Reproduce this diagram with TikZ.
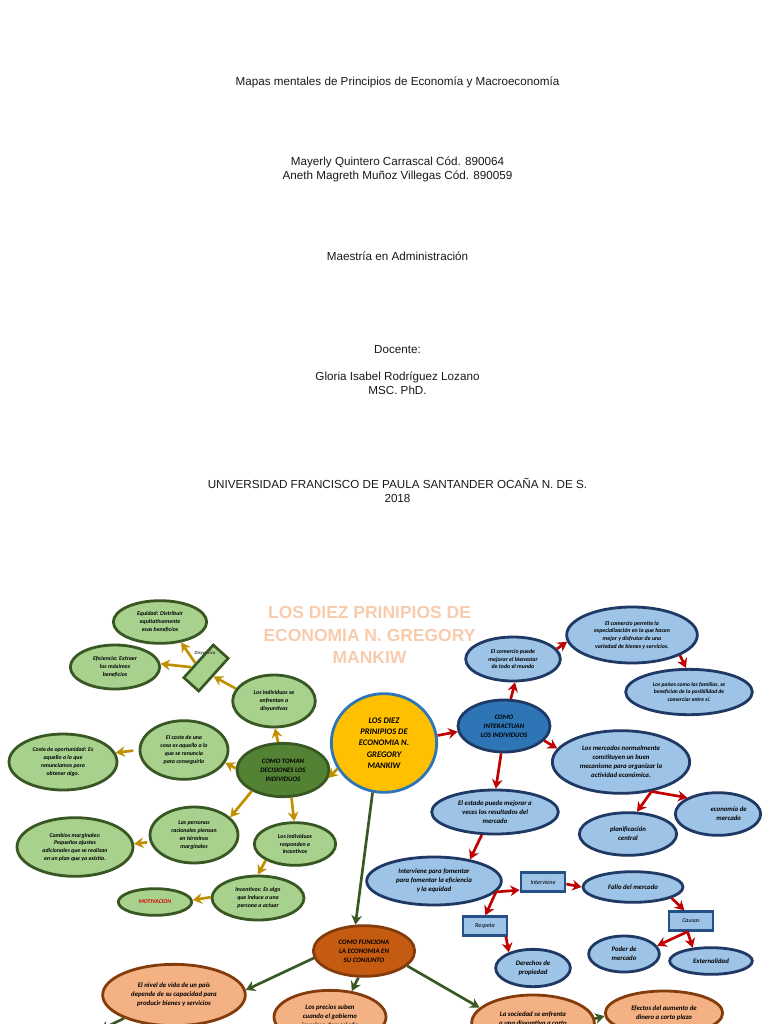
\documentclass[tikz,border=0pt]{standalone}
\usepackage{fontspec}
\setmainfont{Liberation Sans}
\newfontfamily\carl{Carlito}
\usetikzlibrary{arrows.meta,shadows,shapes.geometric}

\definecolor{orangeborde}{HTML}{843C0C}
\definecolor{naranjafill}{HTML}{F4B183}
\definecolor{naranjafuerte}{HTML}{C55A11}
\definecolor{azulborde}{HTML}{1F3864}
\definecolor{azulfill}{HTML}{9DC3E6}
\definecolor{azulfuerte}{HTML}{2E75B6}
\definecolor{verdeborde}{HTML}{385723}
\definecolor{verdefill}{HTML}{A9D18E}
\definecolor{verdefuerte}{HTML}{548235}
\definecolor{amarillo}{HTML}{FFC000}
\definecolor{flechaoro}{HTML}{BF9000}
\definecolor{flecharoja}{HTML}{C00000}
\definecolor{titulomapa}{HTML}{F8CBAD}

\tikzset{
  titulo/.style={font=\fontsize{8.75pt}{10.6pt}\selectfont,align=center,text=black!90},
  burbuja/.style={ellipse,draw,line width=2.1pt,inner sep=0pt,align=center,
    font=\carl\bfseries\itshape\fontsize{4.4pt}{5.8pt}\selectfont,drop shadow={opacity=0.25,shadow xshift=0.4pt,shadow yshift=-0.8pt}},
  grande/.style={font=\carl\bfseries\itshape\fontsize{5.1pt}{6.7pt}\selectfont},
  verde/.style={burbuja,draw=verdeborde,fill=verdefill},
  azul/.style={burbuja,draw=azulborde,fill=azulfill},
  naranja/.style={burbuja,draw=orangeborde,fill=naranjafill},
  caja/.style={draw=azulborde!60!azulfuerte,fill=azulfill,line width=2pt,inner sep=0pt,
    minimum width=33pt,minimum height=14pt,font=\carl\itshape\fontsize{4.6pt}{5pt}\selectfont},
  oro/.style={-{Stealth[length=7pt,width=8pt]},line width=2pt,flechaoro},
  rojo/.style={-{Stealth[length=7pt,width=8pt]},line width=2pt,flecharoja},
  pino/.style={-{Stealth[length=7pt,width=8pt]},line width=2pt,verdeborde},
}

\begin{document}
\begin{tikzpicture}[x=0.75pt,y=-0.75pt]
    \useasboundingbox (0,0) rectangle (768,1024);

    % Portada
    \node[titulo] (tit) at (397.5,82) {Mapas mentales de Principios de Economía y Macroeconomía};
    \node[titulo] (aut) at (397.5,169.5) {Mayerly Quintero Carrascal Cód. 890064\\Aneth Magreth Muñoz Villegas Cód. 890059};
    \node[titulo] (mae) at (397.5,256) {Maestría en Administración};
    \node[titulo] (doc) at (397.5,350) {Docente:};
    \node[titulo] (glo) at (397.5,383.5) {Gloria Isabel Rodríguez Lozano\\MSC. PhD.};
    \node[titulo] (uni) at (397.5,490) {UNIVERSIDAD FRANCISCO DE PAULA SANTANDER OCAÑA N. DE S.\\2018};

    % Titulo del mapa
    \node[align=center,text=titulomapa,font=\bfseries\fontsize{13.1pt}{16.6pt}\selectfont] (mapa) at (369.5,635)
      {LOS DIEZ PRINIPIOS DE\\ECONOMIA N. GREGORY\\MANKIW};

    % Centro
    \node[burbuja,draw=azulfuerte,fill=amarillo,minimum width=79pt,minimum height=74pt,font=\carl\bfseries\itshape\fontsize{6.4pt}{8.5pt}\selectfont] (centro) at (384,743)
      {LOS DIEZ\\PRINIPIOS DE\\ECONOMIA N.\\GREGORY\\MANKIW};

    % Individuos
    \node[verde,grande,fill=verdefuerte,minimum width=69pt,minimum height=40pt] (toman) at (283,770) {COMO TOMAN\\DECISIONES LOS\\INDIVIDUOS};
    \node[verde,minimum width=62pt,minimum height=39pt] (disy) at (274,701) {Los individuos se\\enfrentan a\\disyuntivas};
    \node[draw=verdeborde,fill=verdefill,line width=2pt,minimum width=33pt,minimum height=15pt,rotate=48,inner sep=0pt] (rect) at (206,668) {};
    \node[font=\carl\bfseries\itshape\fontsize{3.6pt}{4pt}\selectfont,text=black!75] (rectl) at (205,653) {Disyuntiva};
    \node[verde,minimum width=70pt,minimum height=32pt] (equi) at (160,622) {Equidad: Distribuir\\equitativamente\\esas beneficios};
    \node[verde,minimum width=67pt,minimum height=33pt] (efic) at (115,667) {Eficiencia:  Extraer\\los máximos\\beneficios};
    \node[verde,minimum width=66pt,minimum height=44pt] (coste) at (184,750) {El coste de una\\cosa es aquello a lo\\que se renuncia\\para conseguirlo};
    \node[verde,minimum width=81pt,minimum height=42pt] (oport) at (63,762) {Coste de oportunidad: Es\\aquello a lo que\\renunciamos para\\obtener algo.};
    \node[verde,minimum width=66pt,minimum height=42pt] (racio) at (194,835) {Las personas\\racionales piensan\\en términos\\marginales};
    \node[verde,minimum width=87pt,minimum height=44pt] (margi) at (75,847) {Cambios marginales:\\Pequeños ajustes\\adicionales que se realizan\\en un plan que ya existía.};
    \node[verde,minimum width=61pt,minimum height=32pt] (respo) at (295,844) {Los individuos\\responden a\\incentivos};
    \node[verde,minimum width=69pt,minimum height=33pt] (incen) at (258,898) {Incentivos: Es algo\\que induce a una\\persona a actuar};
    \node[verde,minimum width=55pt,minimum height=20pt,text=red!85!black] (motiv) at (155,902) {MOTIVACION};

    % Interactuan
    \node[azul,grande,fill=azulfuerte,minimum width=69pt,minimum height=39pt] (inter) at (504,726) {COMO\\INTERACTUAN\\LOS INDIVIDUOS};
    \node[azul,minimum width=71pt,minimum height=33pt] (comer) at (513,659) {El comercio puede\\mejorar el bienestar\\de todo el mundo};
    \node[azul,minimum width=98pt,minimum height=42pt] (espec) at (632,635) {El comercio permite la\\especialización en la que hacen\\mejor y disfrutar de una\\variedad de bienes y servicios.};
    \node[azul,minimum width=95pt,minimum height=34pt,font=\carl\bfseries\itshape\fontsize{4.2pt}{5.8pt}\selectfont] (paises) at (689,692) {Los países como las familias, se\\benefician de la posibilidad de\\comerciar entre sí.};
    \node[azul,grande,minimum width=103pt,minimum height=47pt] (merca) at (621,762) {Los mercados normalmente\\constituyen un buen\\mecanismo para organizar la\\actividad económica.};
    \node[azul,grande,minimum width=64pt,minimum height=32pt] (econ) at (718,814) {\hspace*{16pt}economía de\\\hspace*{16pt}mercado};
    \node[azul,grande,minimum width=73pt,minimum height=32pt] (plani) at (628,834) {planificación\\central};
    \node[azul,grande,minimum width=95pt,minimum height=33pt] (estado) at (495,812) {El estado puede mejorar a\\veces los resultados del\\mercado};
    \node[azul,grande,minimum width=101pt,minimum height=36pt] (fomen) at (434,881) {Interviene para fomentar\\para fomentar la eficiencia\\y la equidad};
    \node[caja] (intv) at (543,882) {Interviene};
    \node[caja] (resp) at (485,926) {Respeta};
    \node[azul,grande,minimum width=75pt,minimum height=23pt] (fallo) at (633,887) {Fallo del mercado};
    \node[caja] (causas) at (691,921) {Causas};
    \node[azul,grande,minimum width=56pt,minimum height=28pt] (derech) at (533,968) {Derechos de\\propiedad};
    \node[azul,grande,minimum width=53pt,minimum height=27pt] (poder) at (624,954) {Poder de\\mercado};
    \node[azul,grande,minimum width=62pt,minimum height=20pt] (exter) at (711,961) {Externalidad};

    % Conjunto
    \node[naranja,grande,fill=naranjafuerte,minimum width=76pt,minimum height=38pt] (conj) at (364,951) {COMO FUNCIONA\\LA ECONOMIA EN\\SU CONJUNTO};
    \node[naranja,grande,minimum width=107pt,minimum height=46pt] (nivel) at (174,995) {El nivel de vida de un país\\depende de su capacidad para\\producir bienes y servicios};
    \node[naranja,grande,minimum width=84pt,minimum height=40pt] (preci) at (330,1017) {Los precios suben\\cuando el gobierno\\imprime demasiado};
    \node[naranja,grande,minimum width=92pt,minimum height=42pt] (socie) at (533,1023) {La sociedad se enfrenta\\a una disyuntiva a corto\\\mbox{}};
    \node[naranja,grande,minimum width=88pt,minimum height=33pt] (efect) at (664,1013) {Efectos del aumento de\\dinero a corto plazo};

    % Puntos de salida
    \coordinate (mercanudo) at (merca.-44);
    \coordinate (fomennudo) at (fomen.-10);
    \coordinate (causasnudo) at (causas.-108);
    \coordinate (nivelsale) at (100,1030);

    % Flechas
    \draw[oro] (centro.209) -- (toman.-10);
    \draw[oro] (toman.100) -- (disy.-88);
    \draw[oro] (disy.162) -- (rect.-96);
    \draw[oro] (rect.107) -- (equi.-44);
    \draw[oro] (rect.129) -- (efic.4);
    \draw[oro] (toman.178) -- (coste.-17);
    \draw[oro,shorten <=4pt] (coste.180) -- (oport.10);
    \draw[oro] (toman.214) -- (racio.26);
    \draw[oro,shorten <=2pt] (racio.189) -- (margi.3);
    \draw[oro] (toman.-73) -- (respo.92);
    \draw[oro] (respo.209) -- (incen.90);
    \draw[oro] (incen.179) -- (motiv.3);
    \draw[rojo] (centro.8) -- (inter.187);
    \draw[rojo] (inter.76) -- (comer.-85);
    \draw[rojo] (comer.13) -- (espec.186);
    \draw[rojo] (espec.-23) -- (paises.97);
    \draw[rojo] (inter.-20) -- (merca.168);
    \draw[rojo] (inter.264) -- (estado.88);
    \draw[rojo] (mercanudo) -- (econ.152);
    \draw[rojo] (mercanudo) -- (plani.68);
    \draw[rojo] (estado.240) -- (fomen.31);
    \draw[rojo] (fomennudo) -- (intv.199);
    \draw[rojo] (fomennudo) -- (resp.88);
    \draw[rojo] (intv.-5) -- (fallo.180);
    \draw[rojo] (fallo.-16) -- (causas.122);
    \draw[rojo] (resp.-27) -- (derech.147);
    \draw[rojo] (causasnudo) -- (poder.14);
    \draw[rojo] (causasnudo) -- (exter.144);
    \draw[pino] (centro.257) -- (conj.108);
    \draw[pino] (conj.188) -- (nivel.4);
    \draw[pino] (conj.258) -- (preci.50);
    \draw[pino] (conj.-19) -- (socie.164);
    \draw[pino] (socie.4) -- (efect.183);
    \draw[pino] (nivel.205) -- (nivelsale);
\end{tikzpicture}
\end{document}
